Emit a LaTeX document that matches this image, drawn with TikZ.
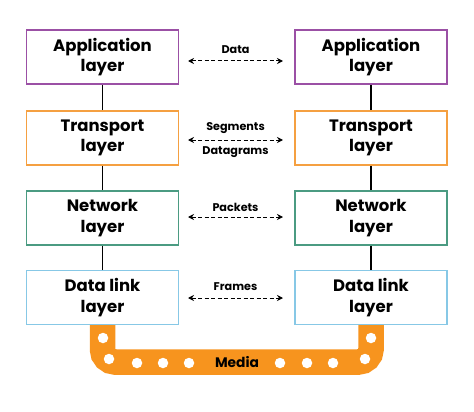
\documentclass[tikz,border=0pt]{standalone}
\usepackage{fontspec}
\setmainfont{Poppins}
\usetikzlibrary{arrows,arrows.meta,positioning}
\usetikzlibrary{calc}

\definecolor{appcol}{RGB}{155,80,165}
\definecolor{trancol}{RGB}{245,160,65}
\definecolor{netcol}{RGB}{75,155,130}
\definecolor{linkcol}{RGB}{135,200,230}
\definecolor{mediacol}{RGB}{247,148,30}

\tikzset{
  layer/.style={draw=#1,line width=1.6pt,fill=white,minimum width=152pt,minimum height=54pt,
    align=center,font=\fontsize{16.5}{20.5}\selectfont\bfseries},
  peer/.style={line width=1pt,dash pattern=on 4pt off 2.5pt,{Stealth[length=6pt,width=6pt]}-{Stealth[length=6pt,width=6pt]}},
  unit/.style={font=\fontsize{11.2}{12}\selectfont\bfseries},
  hole/.style={fill=white,circle,inner sep=0pt,minimum size=10.5pt}
}

\begin{document}
\begin{tikzpicture}[x=1pt,y=-1pt]
\useasboundingbox (0,0) rectangle (474,412);

% media
\draw[mediacol,line width=25.5pt,rounded corners=12.5pt] (102.5,325)--(102.5,362)--(371,362)--(371,325);
\node[hole] (h1) at (103,338) {};
\node[hole] (h2) at (109,359) {};
\foreach \x in {137,163,189,280,307,333} \node[hole] at (\x,363) {};
\node[hole] (h3) at (365,359) {};
\node[hole] (h4) at (371,338) {};
\node[unit,font=\fontsize{13.8}{14}\selectfont\bfseries] (media) at (237,362) {Media};

% left stack
\node[layer=appcol] (appL) at (102.5,57) {Application\\layer};
\node[layer=trancol] (tranL) at (102.5,138) {Transport\\layer};
\node[layer=netcol] (netL) at (102.5,218) {Network\\layer};
\node[layer=linkcol] (linkL) at (102.5,297.5) {Data link\\layer};

% right stack
\node[layer=appcol] (appR) at (371,57) {Application\\layer};
\node[layer=trancol] (tranR) at (371,138) {Transport\\layer};
\node[layer=netcol] (netR) at (371,218) {Network\\layer};
\node[layer=linkcol] (linkR) at (371,297.5) {Data link\\layer};

\draw[line width=1.3pt] (appL)--(tranL) (tranL)--(netL) (netL)--(linkL);
\draw[line width=1.3pt] (appR)--(tranR) (tranR)--(netR) (netR)--(linkR);

% peer arrows
\coordinate (a1) at (188,61); \coordinate (b1) at (283,61);
\coordinate (a2) at (188,140); \coordinate (b2) at (283,140);
\coordinate (a3) at (188,217); \coordinate (b3) at (283,217);
\coordinate (a4) at (188,298); \coordinate (b4) at (283,298);
\draw[peer] (a1)--(b1);
\draw[peer] (a2)--(b2);
\draw[peer] (a3)--(b3);
\draw[peer] (a4)--(b4);

\node[unit] (data) at (235.5,50) {Data};
\node[unit] (seg) at (235.5,128) {Segments};
\node[unit] (dgram) at (235.5,152) {Datagrams};
\node[unit] (pack) at (235.5,207) {Packets};
\node[unit] (frame) at (235.5,287) {Frames};
\end{tikzpicture}
\end{document}
